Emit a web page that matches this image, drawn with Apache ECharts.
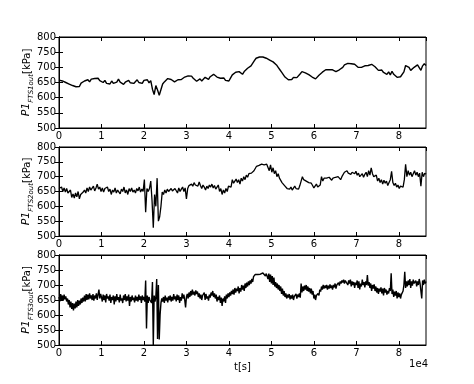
<!DOCTYPE html>
<html><head><meta charset="utf-8">
<script src="https://cdn.jsdelivr.net/npm/echarts@6/dist/echarts.min.js"></script>
<style>html,body{margin:0;padding:0;background:#fff}#c{width:474px;height:384px}</style>
</head><body><div id="c"></div>
<script>
// time step (s) between samples of each series
const step1 = 400, step2 = 300, step3 = 200;
const xTicksMax = 86400;
const yLabels = ['FTS1out', 'FTS2out', 'FTS3out'];

// P1_FTS1out [kPa], one value every 400 s
const p1 = [
658,661,655,658,650,653,645,649,640,646,
636,641,637,648,644,655,650,659,652,661,
655,663,657,664,656,
656,650,657,647,653,645,655,647,646,651,
661,651,656,644,651,647,657,649,655,647,
653,659,650,656,647,
657,651,659,649,656,628,610,640,625,608,
604,645,652,657,663,664,660,655,652,656,
659,653,660,666,668,
671,672,667,671,664,660,654,659,662,655,
661,667,663,660,669,672,677,673,668,673,
664,660,665,657,652,
655,665,675,681,684,682,686,680,677,686,
692,697,700,705,710,722,730,733,734,735,
734,733,730,727,724,
722,718,714,708,700,692,684,676,668,662,
659,658,660,667,668,666,666,679,686,684,
682,680,676,672,668,
664,662,668,674,678,684,688,692,691,692,
690,692,688,686,690,692,694,700,708,712,
713,714,712,713,710,
706,700,698,700,706,705,708,706,708,710,
708,702,696,690,688,691,683,687,677,685,
675,687,677,672,667,
664,669,670,685,706,712,700,690,696,700,
704,708,702,690,705,712,706
];

// P1_FTS2out [kPa], one value every 300 s
const p2 = [
660,655,665,650,662,648,660,645,640,655,
630,642,628,645,632,650,625,640,638,648,
655,645,662,650,665,655,660,668,652,662,
675,658,665,650,662,648,660,655,665,650,
658,640,655,648,662,645,655,660,642,658,
650,665,645,655,640,660,650,662,648,655,
645,660,652,665,648,658,650,690,580,660,
650,660,685,620,528,640,600,695,550,565,
600,648,640,655,645,658,650,645,660,652,
648,660,655,645,662,650,658,665,650,662,
625,660,670,665,675,668,680,672,678,668,
682,670,660,672,665,655,668,660,672,665,
675,662,670,658,665,672,650,660,640,655,
645,660,650,668,672,665,690,678,685,692,
680,690,675,695,685,700,690,705,698,710,
705,712,708,720,725,735,740,738,740,742,
738,740,735,742,748,720,740,715,730,710,
720,700,710,695,690,680,685,670,665,660,
662,658,665,655,660,668,660,665,658,670,
665,700,690,692,685,688,680,685,678,670,
662,660,675,665,660,672,700,685,695,690,
695,690,698,692,688,695,690,698,692,700,
695,690,700,705,715,712,720,712,718,708,
715,720,710,718,705,712,700,695,710,698,
708,715,700,720,705,730,710,700,695,705,
685,695,680,690,675,688,678,685,670,680,
690,718,680,670,678,665,672,660,668,662,
665,690,742,700,720,705,715,700,710,720,
705,715,700,712,668,715,700,712,708
];

// P1_FTS3out [kPa], one value every 200 s
const p3 = [
660,645,670,650,665,648,668,652,662,645,
655,635,650,625,645,620,640,615,638,622,
645,625,650,630,648,635,655,640,658,645,
665,645,670,650,668,652,672,655,665,650,
670,648,665,655,672,650,668,685,655,670,
660,645,668,650,665,642,670,655,662,648,
668,640,660,650,665,635,662,645,670,650,
660,642,668,648,655,640,665,650,670,645,
662,648,668,630,660,645,665,650,658,642,
665,648,660,645,668,650,662,640,665,650,
660,645,715,555,665,640,660,650,655,640,
710,500,665,645,660,720,520,700,518,600,
640,655,645,660,640,665,648,658,642,662,
650,665,645,660,648,670,652,662,645,668,
650,665,640,660,648,672,655,668,650,625,
660,670,655,675,660,680,665,685,668,678,
665,682,670,678,660,672,655,668,650,665,
660,675,650,670,655,662,648,668,658,675,
665,680,660,672,655,668,645,660,650,665,
640,658,630,655,645,662,640,668,655,672,
660,675,665,680,670,685,668,690,675,688,
680,695,672,690,678,700,685,698,680,705,
690,708,695,712,700,715,705,720,710,728,
722,735,730,740,735,738,740,736,742,738,
740,735,742,730,738,744,720,738,710,735,
705,730,700,725,695,710,690,705,685,700,
680,695,670,688,665,680,660,672,655,668,
658,670,652,665,655,668,650,662,658,670,
655,668,660,672,658,705,675,695,680,698,
685,700,680,695,678,690,672,688,668,680,
655,668,650,665,660,672,665,685,678,695,
685,700,688,698,690,700,685,698,688,702,
690,698,685,700,692,705,688,700,695,708,
698,712,705,715,708,718,705,715,710,712,
700,715,705,718,695,712,700,710,690,708,
700,715,690,712,685,705,695,718,700,710,
692,712,700,733,698,710,690,705,680,700,
688,702,680,695,675,690,670,688,678,692,
672,688,665,690,675,685,668,680,672,690,
680,739,670,685,660,678,665,680,655,675,
660,672,655,668,662,680,700,744,690,712,
695,715,700,720,690,712,698,718,705,700,
715,695,712,700,720,705,710,655,715,700,
718,705,712
];

function toXY(vals, step) { return vals.map((v, i) => [i * step, v]); }

const FONT = 'DejaVu Sans';
const grids = [
  {left: 59, top: 37, width: 367, height: 91},
  {left: 59, top: 147, width: 367, height: 89},
  {left: 59, top: 255, width: 367, height: 90}
].map(g => Object.assign(g, {show: true, borderColor: '#000', borderWidth: 1, backgroundColor: '#fff', z: 0}));

const xAxis = [], yAxis = [], series = [];
const datas = [toXY(p1, step1), toXY(p2, step2), toXY(p3, step3)];
const widths = [1.4, 1.3, 1.4];
for (let i = 0; i < 3; i++) {
  const base = {
    gridIndex: i, type: 'value', min: 0, max: xTicksMax, interval: 10000,
    axisLine: {show: true, lineStyle: {color: '#000', width: 1}},
    axisTick: {inside: true, length: 4, lineStyle: {color: '#000'}},
    splitLine: {show: false}
  };
  xAxis.push(Object.assign({}, base, {
    position: 'bottom',
    axisLabel: {margin: 3, fontSize: 10, color: '#000', fontFamily: FONT, showMaxLabel: false,
      formatter: v => (v % 10000 === 0 ? String(v / 10000) : '')},
    name: i === 2 ? 't[s]' : '', nameLocation: 'middle', nameGap: 17, nameMoveOverlap: false,
    nameTextStyle: {fontSize: 10, color: '#000', fontFamily: FONT}
  }));
  xAxis.push(Object.assign({}, base, {position: 'top', axisLabel: {show: false}}));
  const ybase = {
    gridIndex: i, type: 'value', min: 500, max: 800, interval: 50,
    axisLine: {show: true, lineStyle: {color: '#000', width: 1}},
    axisTick: {inside: true, length: 4, lineStyle: {color: '#000'}},
    splitLine: {show: false}
  };
  yAxis.push(Object.assign({}, ybase, {
    position: 'left',
    axisLabel: {margin: 3, fontSize: 10, color: '#000', fontFamily: FONT},
    name: '{i|P1}{s|' + yLabels[i] + '}{n|[kPa]}',
    nameLocation: 'middle', nameRotate: 90, nameGap: 24, nameMoveOverlap: false,
    nameTextStyle: {
      color: '#000', fontFamily: FONT,
      rich: {
        i: {fontFamily: FONT, fontStyle: 'italic', fontSize: 11, color: '#000', verticalAlign: 'bottom', padding: [0, 0, 3, 0]},
        s: {fontFamily: FONT, fontStyle: 'italic', fontSize: 7, color: '#000', verticalAlign: 'bottom'},
        n: {fontFamily: FONT, fontSize: 10, color: '#000', verticalAlign: 'bottom', padding: [0, 0, 3, 0]}
      }
    }
  }));
  yAxis.push(Object.assign({}, ybase, {position: 'right', axisLabel: {show: false}}));
  series.push({
    type: 'line', xAxisIndex: 2 * i, yAxisIndex: 2 * i, data: datas[i],
    showSymbol: false, symbol: 'none', lineStyle: {color: '#000', width: widths[i]},
    z: 3, animation: false
  });
}

const chart = echarts.init(document.getElementById('c'), null, {renderer: 'canvas'});
chart.setOption({
  animation: false,
  backgroundColor: '#fff',
  grid: grids, xAxis: xAxis, yAxis: yAxis, series: series,
  graphic: [
    {type: 'text', right: 46, top: 359, z: 5, style: {text: '1e4', fontSize: 10, fontFamily: FONT, fill: '#000'}}
  ]
});
</script></body></html>
